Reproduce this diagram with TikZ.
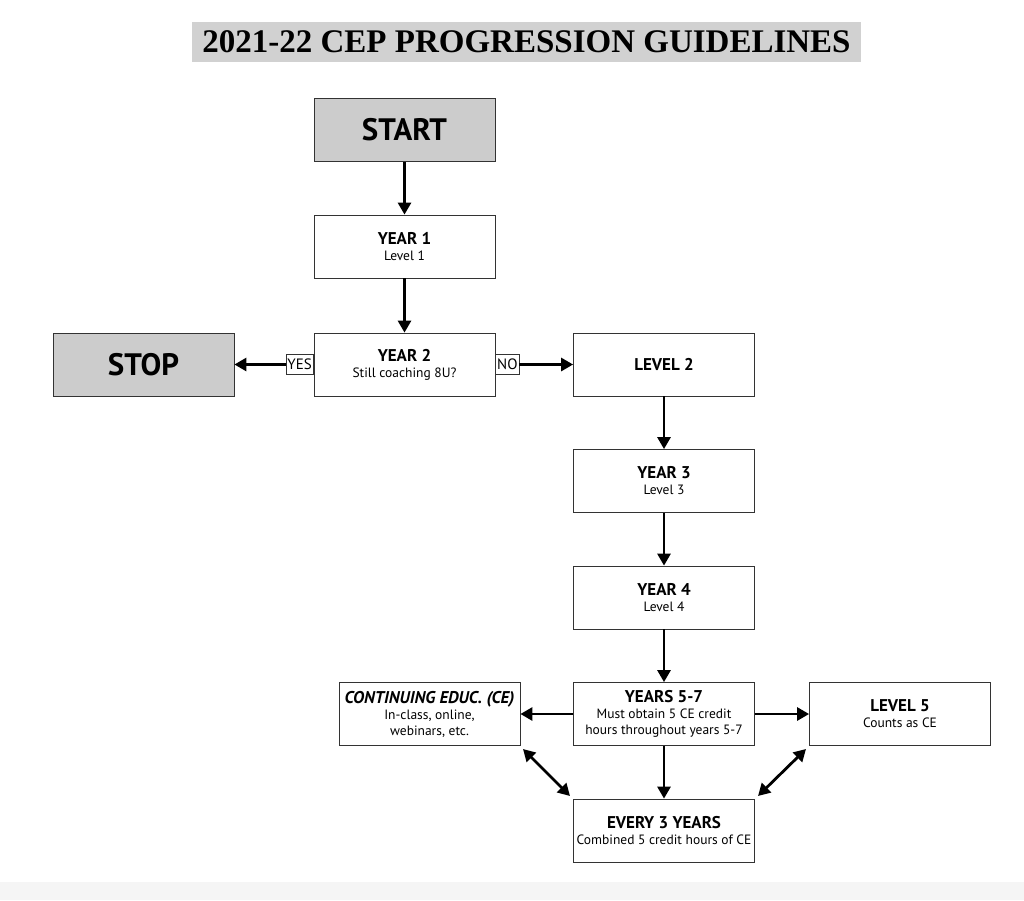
\documentclass[tikz,border=0pt]{standalone}
\usepackage{fontspec}
\setmainfont{PT Sans}
\newfontfamily\titlefont{Liberation Serif}
\usetikzlibrary{arrows.meta}
\newcommand\myhd{\fontsize{17}{17}\selectfont\bfseries}
\newcommand\mysm{\fontsize{13.5}{16}\selectfont}
\begin{document}
\begin{tikzpicture}[x=1pt,y=-1pt,
 box/.style={draw=black!80,line width=0.8pt,minimum width=181pt,minimum height=63pt,align=center,inner sep=2pt,font=\mysm},
 gbox/.style={box,fill=black!20},
 lab/.style={draw=black!80,line width=0.6pt,fill=white,inner sep=1.5pt,minimum height=20pt,font=\fontsize{15}{16}\selectfont},
 arr/.style={line width=2.8pt,-{Triangle[length=12pt,width=13pt]}},
 darr/.style={line width=2.8pt,{Triangle[length=12pt,width=13pt]}-{Triangle[length=12pt,width=13pt]}},
 big/.style={font=\fontsize{31}{32}\selectfont\bfseries}]
\useasboundingbox (0,0) rectangle (1024,900);
\fill[black!4] (0,882) rectangle (1024,900);
\node[fill=black!18,minimum width=669pt,minimum height=40pt,font=\titlefont\fontsize{33}{34}\selectfont\bfseries] (title) at (526.5,42) {2021-22 CEP PROGRESSION GUIDELINES};
\node[gbox,big] (start) at (404.5,130) {START};
\node[box] (y1) at (404.5,246.5) {{\myhd YEAR 1}\\{Level 1}};
\node[box] (y2) at (404.5,364.5) {{\myhd YEAR 2}\\{Still coaching 8U?}};
\node[gbox,big] (stop) at (143.5,364.5) {STOP};
\node[box,font=\myhd] (l2) at (664,364.5) {LEVEL 2};
\node[box] (y3) at (664,481) {{\myhd YEAR 3}\\{Level 3}};
\node[box] (y4) at (664,597.5) {{\myhd YEAR 4}\\{Level 4}};
\node[box] (y57) at (664,714) {{\myhd YEARS 5-7}\\{Must obtain 5 CE credit}\\{hours throughout years 5-7}};
\node[box] (ce) at (429.5,714) {{\myhd\itshape CONTINUING EDUC. (CE)}\\{In-class, online,}\\{webinars, etc.}};
\node[box] (l5) at (900,714) {{\myhd LEVEL 5}\\{Counts as CE}};
\node[box] (e3) at (664,830.5) {{\myhd EVERY 3 YEARS}\\{Combined 5 credit hours of CE}};
\node[lab,anchor=east] (yes) at (y2.west) {YES};
\node[lab,anchor=west] (no) at (y2.east) {NO};
\draw[arr] (start) -- (y1);
\draw[arr] (y1) -- (y2);
\draw[arr] (yes) -- (stop);
\draw[arr] (no) -- (l2);
\draw[arr] (l2) -- (y3);
\draw[arr] (y3) -- (y4);
\draw[arr] (y4) -- (y57);
\draw[arr] (y57) -- (ce);
\draw[arr] (y57) -- (l5);
\draw[arr] (y57) -- (e3);
\coordinate (a1) at (523,749); \coordinate (a2) at (570,796);
\coordinate (b1) at (806,749); \coordinate (b2) at (758,796);
\draw[darr] (a1) -- (a2);
\draw[darr] (b1) -- (b2);
\end{tikzpicture}
\end{document}
